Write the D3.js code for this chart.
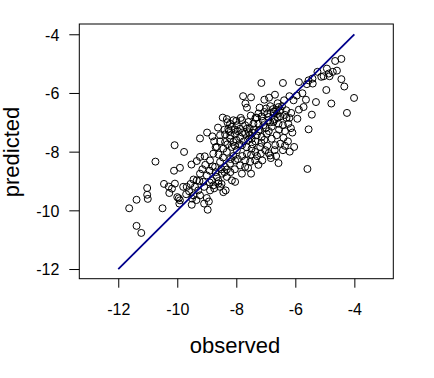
<!DOCTYPE html>
<html>
<head>
<meta charset="utf-8">
<script src="https://cdn.jsdelivr.net/npm/d3@7"></script>
<style>
  body { margin: 0; background: #fff; }
  svg { display: block; }
  text { font-family: Arial, "Liberation Sans", sans-serif; fill: #000; }
</style>
</head>
<body>
<svg id="chart"></svg>
<script>
// observed / predicted pairs
const observed = [
  -4.44, -4.65, -4.59, -4.93, -5.25, -5.12, -4.87, -4.73, -5.04, -4.84,
  -4.44, -5.41, -5.55, -5.61, -5.88, -6.42, -7.15, -4.34, -4.95, -5.42,
  -7.77, -7.50, -7.69, -7.05, -6.89, -6.69, -6.20, -6.06, -6.38, -5.76, -5.64, -5.30, -4.01, -4.78, -5.95,
  -7.64, -7.21, -6.99, -7.51, -6.14, -5.88, -5.72, -5.44, -4.25, -6.65, -6.51, -6.31, -6.57, -6.74, -6.91, -7.14, -7.31, -6.51,
  -8.46, -8.32, -8.21, -8.10, -7.98, -7.81, -7.70, -7.59, -7.42, -7.25, -7.08, -6.91, -6.74, -6.57, -6.42, -6.24, -5.93, -8.62, -8.27, -7.87, -7.64,
  -8.99, -8.81, -9.23, -8.55, -8.38, -8.21, -8.04, -7.87, -7.70, -7.58, -7.48, -7.31, -7.14, -6.97, -6.80, -6.63, -6.40, -6.10, -5.55, -8.38, -8.10,
  -10.09, -9.77, -9.23, -9.07, -8.78, -8.66, -8.44, -8.32, -8.15, -7.98, -7.81, -7.64, -7.48, -7.36, -7.19, -7.17, -7.02, -6.85, -6.68, -6.42, -6.19, -6.04, -6.51,
  -10.74, -9.52, -9.34, -9.91, -8.89, -8.72, -8.55, -8.38, -8.21, -8.04, -7.87, -7.70, -7.53, -7.36, -7.12, -6.83, -6.57, -5.59, -8.32,
  -10.11, -10.45, -10.08, -9.55, -9.34, -9.23, -9.00, -8.83, -8.66, -8.49, -8.32, -8.15, -8.04, -7.81, -7.50, -9.12, -8.61,
  -10.29, -10.18, -9.68, -9.40, -9.29, -9.09, -8.89, -8.78, -8.55, -8.44, -8.36, -10.00, -10.27, -11.02, -11.02, -9.45, -9.23, -9.00,
  -11.00, -11.38, -9.95, -9.93, -9.51, -9.09, -8.93, -8.97, -11.63, -10.50, -9.91, -11.38, -11.22,
  -8.15, -8.05, -8.25, -7.95, -7.55, -7.45, -7.40, -7.60, -7.35, -7.25,
  -7.00, -6.90, -6.80, -6.70, -6.60, -6.85, -6.95, -6.75, -7.10, -7.20,
  -7.55, -7.75, -7.90, -8.00, -7.65, -7.50, -7.30, -7.80, -7.95, -8.10,
  -8.20, -8.45, -8.60, -8.50, -8.40, -8.20, -8.05, -8.70, -8.80, -8.90,
  -8.60, -8.75, -8.50, -8.90, -9.15, -9.05, -9.45, -9.60, -9.80, -9.70,
  -9.50, -9.35, -9.25, -8.70, -8.55, -8.75, -8.40, -8.30, -8.00, -7.85,
  -7.35, -7.25, -7.05, -6.85, -6.60, -6.45, -6.30, -6.35, -6.55, -6.15,
  -6.25, -6.70, -6.95, -7.05, -7.45, -7.70, -7.60, -7.25, -6.90, -6.65,
  -6.35, -7.15, -7.80, -8.05, -8.30, -6.73, -6.62, -6.35, -6.20, -8.20
];
const predicted = [
  -4.84, -4.91, -5.24, -5.17, -5.28, -5.45, -5.34, -5.28, -5.43, -5.43,
  -5.53, -5.68, -5.57, -5.70, -5.63, -5.66, -5.66, -5.78, -5.90, -5.51,
  -6.11, -6.15, -6.36, -6.23, -6.16, -6.06, -6.11, -6.25, -6.25, -6.01, -6.23, -6.31, -6.17, -6.36, -6.09,
  -6.50, -6.50, -6.53, -6.77, -6.68, -6.57, -6.48, -6.74, -6.68, -6.59, -6.59, -6.59, -6.48, -6.70, -6.82, -6.80, -6.84, -6.80,
  -6.84, -6.89, -7.05, -6.93, -7.10, -6.93, -7.10, -6.99, -7.05, -7.05, -7.10, -6.93, -6.99, -7.05, -7.10, -7.05, -6.88, -7.18, -7.22, -7.22, -7.22,
  -7.35, -7.48, -7.55, -7.44, -7.41, -7.56, -7.41, -7.50, -7.39, -7.34, -7.56, -7.44, -7.50, -7.39, -7.56, -7.44, -7.53, -7.35, -7.24, -7.67, -7.67,
  -7.78, -8.01, -8.18, -8.16, -8.07, -7.84, -7.90, -8.01, -7.84, -7.95, -7.78, -8.07, -7.90, -8.01, -7.84, -8.07, -7.95, -8.13, -7.78, -7.95, -8.00, -7.84, -7.73,
  -8.34, -8.44, -8.32, -8.55, -8.30, -8.52, -8.35, -8.52, -8.41, -8.30, -8.47, -8.52, -8.35, -8.30, -8.30, -8.22, -8.39, -8.59, -8.61,
  -8.65, -9.10, -9.09, -9.10, -8.98, -8.75, -8.81, -8.98, -8.86, -8.75, -8.86, -8.98, -9.03, -8.75, -8.75, -9.03, -9.09,
  -9.19, -9.26, -9.20, -9.20, -9.32, -9.20, -9.32, -9.15, -9.20, -9.38, -9.32, -9.55, -9.41, -9.24, -9.47, -9.49, -9.49, -9.58,
  -9.61, -9.64, -9.59, -9.77, -9.81, -9.77, -9.70, -9.98, -9.93, -9.93, -9.66, -10.53, -10.77,
  -7.15, -7.25, -7.30, -7.30, -7.45, -7.35, -7.25, -7.60, -7.65, -7.30,
  -7.20, -7.30, -7.15, -6.90, -6.85, -7.00, -6.70, -6.55, -6.95, -7.25,
  -7.20, -7.65, -7.75, -7.60, -7.85, -8.10, -8.15, -8.15, -8.25, -8.15,
  -8.25, -8.20, -8.10, -8.60, -8.70, -8.70, -8.60, -8.70, -8.50, -8.65,
  -9.00, -9.25, -9.10, -9.05, -8.60, -8.45, -8.95, -9.35, -9.20, -9.45,
  -9.60, -9.65, -9.00, -7.85, -7.65, -7.65, -7.25, -7.00, -6.95, -6.85,
  -6.85, -6.70, -6.65, -6.45, -6.35, -6.45, -6.85, -7.30, -7.25, -7.20,
  -7.65, -7.95, -7.80, -7.60, -7.75, -8.30, -8.55, -8.45, -8.05, -8.15,
  -7.80, -7.70, -7.35, -7.80, -7.75, -6.64, -6.72, -6.75, -6.85, -7.45
];
const xTicks = [-12, -10, -8, -6, -4];
const yTicks = [-12, -10, -8, -6, -4];
const refLine = [-12, -4];   // 1:1 line end points

const w = 434, h = 378;
const box = { left: 79.3, right: 393.3, top: 24, bottom: 278.7 };

const svg = d3.select('#chart')
    .attr('width', w)
    .attr('height', h);

const x = d3.scaleLinear().domain([-13.32, -2.68]).range([box.left, box.right]);
const y = d3.scaleLinear().domain([-12.33, -3.65]).range([box.bottom, box.top]);

// axes (R style: outward ticks, no axis line beyond the box)
const xAxis = svg.append('g')
    .attr('transform', `translate(0, ${box.bottom})`)
    .call(d3.axisBottom(x).tickValues(xTicks).tickSize(9).tickPadding(16).tickFormat(d => String(d)));
const yAxis = svg.append('g')
    .attr('transform', `translate(${box.left}, 0)`)
    .call(d3.axisLeft(y).tickValues(yTicks).tickSize(10).tickPadding(10).tickFormat(d => String(d)));

[xAxis, yAxis].forEach(g => {
    g.select('.domain').remove();
    g.selectAll('line').attr('stroke', '#000').attr('stroke-width', 1);
    g.selectAll('text').style('font-size', '16px').attr('fill', '#000')
        .style('font-family', 'Arial, "Liberation Sans", sans-serif');
});
yAxis.selectAll('text').attr('dy', '0.36em');

// plot box
svg.append('rect')
    .attr('x', box.left).attr('y', box.top)
    .attr('width', box.right - box.left).attr('height', box.bottom - box.top)
    .attr('fill', 'none').attr('stroke', '#000').attr('stroke-width', 1);

// points
const points = observed.map((o, i) => ({ o, p: predicted[i] }));
svg.append('g')
    .selectAll('circle')
    .data(points)
    .join('circle')
    .attr('cx', d => x(d.o))
    .attr('cy', d => y(d.p))
    .attr('r', 3.5)
    .attr('fill', 'none')
    .attr('stroke', '#000')
    .attr('stroke-width', 1);

// 1:1 line
svg.append('line')
    .attr('x1', x(refLine[0])).attr('y1', y(refLine[0]))
    .attr('x2', x(refLine[1])).attr('y2', y(refLine[1]))
    .attr('stroke', '#00008B')
    .attr('stroke-width', 1.8);

// axis titles
svg.append('text')
    .attr('x', 235).attr('y', 353)
    .attr('text-anchor', 'middle')
    .style('font-size', '22px')
    .text('observed');

svg.append('text')
    .attr('transform', 'translate(19, 152) rotate(-90)')
    .attr('text-anchor', 'middle')
    .style('font-size', '22px')
    .text('predicted');
</script>
</body>
</html>
